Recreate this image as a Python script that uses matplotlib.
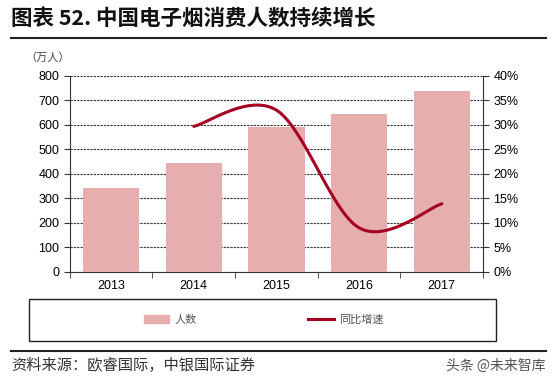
import matplotlib.pyplot as plt
import numpy as np
from matplotlib.patches import Rectangle
from matplotlib.lines import Line2D

plt.rcParams['font.family'] = ['Liberation Sans', 'Noto Sans CJK SC', 'DejaVu Sans']

years = ['2013', '2014', '2015', '2016', '2017']
users = np.array([343, 445, 592, 645, 737])          # 万人
growth = np.array([29.7, 33.0, 9.0, 13.9])           # %, 2014-2017

bar_color = '#E6AEAE'
line_color = '#A50021'

fig = plt.figure(figsize=(5.54, 3.83), dpi=100)
ax = fig.add_axes([0.126, 0.29, 0.746, 0.512])

x = np.arange(len(years))
ax.bar(x, users, width=0.68, color=bar_color, zorder=3)
ax.set_xlim(-0.5, len(years) - 0.5)
ax.set_ylim(0, 800)
ax.set_yticks(np.arange(0, 801, 100))
ax.yaxis.grid(True, linestyle=(0, (2, 1)), color='#333333', linewidth=0.8, zorder=0)
ax.set_axisbelow(True)
ax.set_xticks(x)
ax.set_xticklabels(years, fontsize=9)
ax.tick_params(axis='x', which='major', length=0, pad=6)
ax.set_xticks(np.arange(-0.5, len(years), 1), minor=True)
ax.tick_params(axis='x', which='minor', length=4, direction='out', color='#333333')
ax.tick_params(axis='y', length=4, direction='out', labelsize=9, color='#333333')
for s in ['top', 'right']:
    ax.spines[s].set_visible(False)
ax.spines['left'].set_color('#333333')
ax.spines['bottom'].set_color('#333333')

ax2 = ax.twinx()
ax2.set_ylim(0, 40)
ax2.set_yticks(np.arange(0, 41, 5))
ax2.set_yticklabels([f'{v}%' for v in range(0, 41, 5)])
ax2.tick_params(axis='y', length=4, direction='out', labelsize=9, color='#333333')
for s in ['top', 'left', 'bottom']:
    ax2.spines[s].set_visible(False)
ax2.spines['right'].set_color('#333333')

# smoothed line (Excel-style bezier through the points)
gx = x[1:].astype(float)
gy = growth
px, py = [], []
t = np.linspace(0, 1, 40)
for i in range(len(gx) - 1):
    p0 = np.array([gx[i], gy[i]])
    p3 = np.array([gx[i + 1], gy[i + 1]])
    prev = np.array([gx[i - 1], gy[i - 1]]) if i > 0 else p0
    nxt = np.array([gx[i + 2], gy[i + 2]]) if i + 2 < len(gx) else p3
    p1 = p0 + (p3 - prev) / 6
    p2 = p3 - (nxt - p0) / 6
    b = (((1 - t) ** 3)[:, None] * p0 + (3 * (1 - t) ** 2 * t)[:, None] * p1
         + (3 * (1 - t) * t ** 2)[:, None] * p2 + (t ** 3)[:, None] * p3)
    px.extend(b[:, 0]); py.extend(b[:, 1])
ax2.plot(px, py, color=line_color, linewidth=2.2, solid_capstyle='round', zorder=4)

# title and rules
fig.text(0.02, 0.953, '图表 52. 中国电子烟消费人数持续增长', fontsize=15.5, fontweight='bold',
         family=['Noto Sans CJK SC', 'DejaVu Sans'], va='center', color='#111111')
fig.add_artist(Line2D([0.02, 0.985], [0.9, 0.9], color='#222222', linewidth=1.5))
fig.text(0.045, 0.85, '（万人）', fontsize=8, family=['Noto Sans CJK SC', 'DejaVu Sans'],
         va='center', color='#444444')

# legend box
fig.add_artist(Rectangle((0.053, 0.11), 0.842, 0.11, transform=fig.transFigure,
                         fill=False, edgecolor='#222222', linewidth=1))
handles = [Rectangle((0, 0), 1, 1, color=bar_color),
           Line2D([0], [0], color=line_color, linewidth=2.2)]
fig.legend(handles, ['人数', '同比增速'], loc='center', bbox_to_anchor=(0.476, 0.165),
           ncol=2, frameon=False, columnspacing=10, handlelength=2.3, handletextpad=0.5,
           prop={'family': ['Noto Sans CJK SC'], 'size': 8}, labelcolor='#555555')

fig.add_artist(Line2D([0.02, 0.985], [0.083, 0.083], color='#222222', linewidth=1.5))
fig.text(0.02, 0.045, '资料来源：欧睿国际，中银国际证券', fontsize=11, style='italic',
         family=['Noto Sans CJK SC'], va='center', color='#333333')
fig.text(0.985, 0.045, '头条 @未来智库', fontsize=10, family=['Noto Sans CJK SC'],
         va='center', ha='right', color='#555555')

fig.savefig('out.png', dpi=100)
